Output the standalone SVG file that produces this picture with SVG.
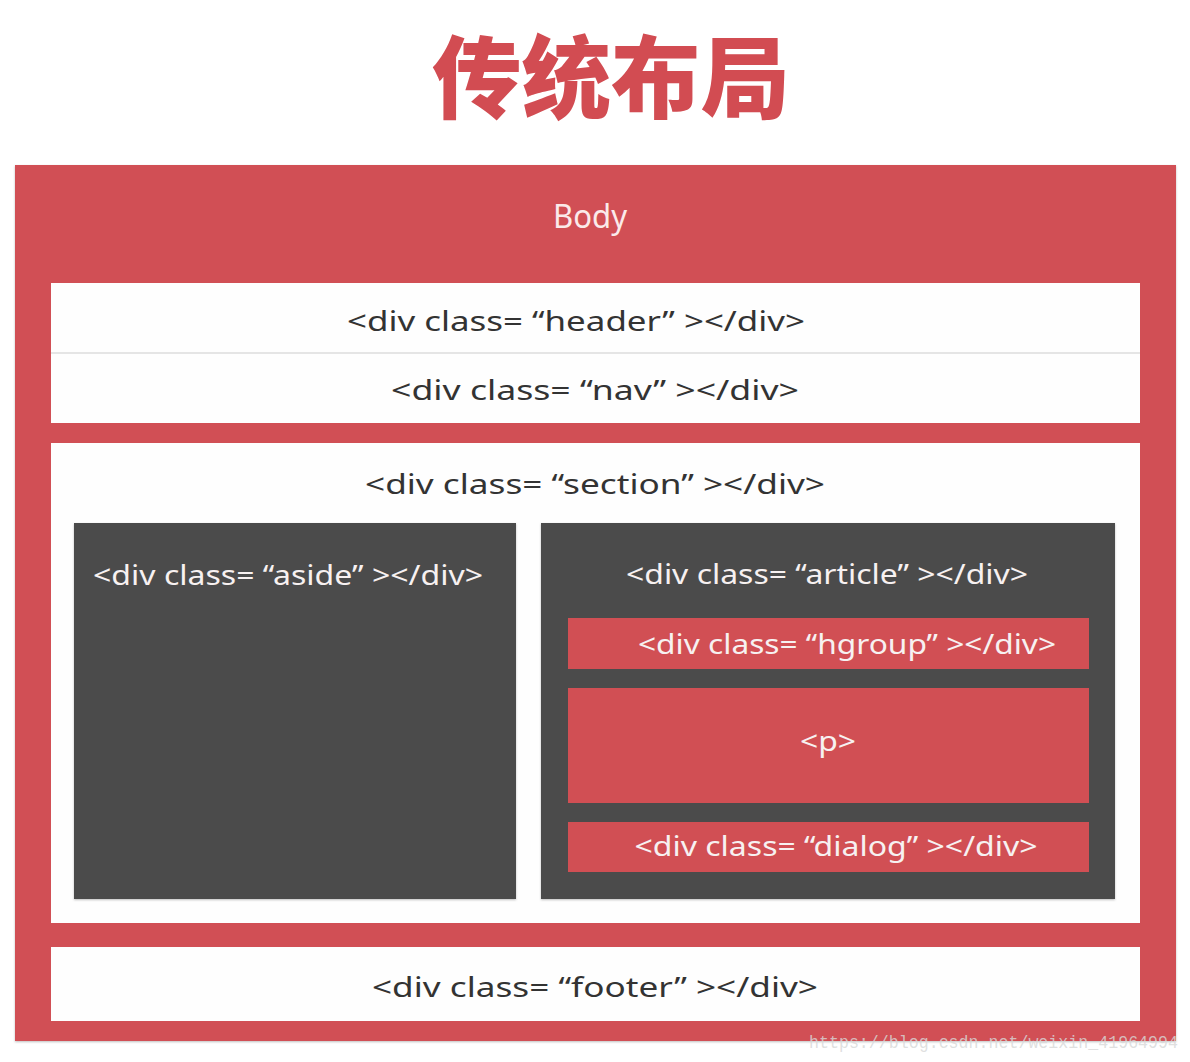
<svg xmlns="http://www.w3.org/2000/svg" width="1190" height="1062" viewBox="0 0 1190 1062">
  <style>
    .red { fill: #d14f54; }
    .white { fill: #fefefe; }
    .dark { fill: #4b4b4b; }
    .lbl { font-family: "Noto Sans", "Open Sans", "Noto Sans CJK SC", sans-serif; font-size: 28px; text-anchor: middle; }
    .onwhite { fill: #333333; }
    .onfill { fill: #f7f1f1; }
  </style>
  <defs>
    <filter id="sh" x="-5%" y="-5%" width="110%" height="115%">
      <feDropShadow dx="0" dy="1" stdDeviation="1" flood-color="#000" flood-opacity="0.25"/>
    </filter>
  </defs>
  <rect x="0" y="0" width="1190" height="1062" fill="#ffffff"/>

  <g id="title">
    <text x="611" y="111" font-family="Noto Sans CJK SC, sans-serif" font-weight="900" font-size="90" fill="#d24c52" text-anchor="middle" textLength="358" lengthAdjust="spacingAndGlyphs">传统布局</text>
  </g>

  <g id="body">
    <rect class="red" x="15" y="165" width="1161" height="876" filter="url(#sh)"/>
    <text x="590" y="228" font-family="Noto Sans, sans-serif" font-size="32" fill="#fbeaea" text-anchor="middle" textLength="74" lengthAdjust="spacingAndGlyphs">Body</text>
  </g>

  <g id="header">
    <rect class="white" x="51" y="283" width="1089" height="70"/>
    <text class="lbl onwhite" x="576" y="331" textLength="458" lengthAdjust="spacingAndGlyphs">&lt;div class= “header” &gt;&lt;/div&gt;</text>
  </g>

  <g id="nav">
    <rect class="white" x="51" y="353" width="1089" height="70"/>
    <line x1="51" y1="353" x2="1140" y2="353" stroke="#dcdcdc" stroke-width="1.5"/>
    <text class="lbl onwhite" x="595" y="400" textLength="408" lengthAdjust="spacingAndGlyphs">&lt;div class= “nav” &gt;&lt;/div&gt;</text>
  </g>

  <g id="section">
    <rect class="white" x="51" y="443" width="1089" height="480"/>
    <text class="lbl onwhite" x="595" y="494" textLength="460" lengthAdjust="spacingAndGlyphs">&lt;div class= “section” &gt;&lt;/div&gt;</text>
  </g>

  <g id="aside">
    <rect class="dark" x="74" y="523" width="442" height="376" filter="url(#sh)"/>
    <text class="lbl onfill" x="288" y="585" textLength="390" lengthAdjust="spacingAndGlyphs">&lt;div class= “aside” &gt;&lt;/div&gt;</text>
  </g>

  <g id="article">
    <rect class="dark" x="541" y="523" width="574" height="376" filter="url(#sh)"/>
    <text class="lbl onfill" x="827" y="584" textLength="402" lengthAdjust="spacingAndGlyphs">&lt;div class= “article” &gt;&lt;/div&gt;</text>
  </g>

  <g id="hgroup">
    <rect class="red" x="568" y="618" width="521" height="51"/>
    <text class="lbl onfill" x="847" y="654" textLength="418" lengthAdjust="spacingAndGlyphs">&lt;div class= “hgroup” &gt;&lt;/div&gt;</text>
  </g>

  <g id="p">
    <rect class="red" x="568" y="688" width="521" height="115"/>
    <text class="lbl onfill" x="828" y="751" textLength="56" lengthAdjust="spacingAndGlyphs">&lt;p&gt;</text>
  </g>

  <g id="dialog">
    <rect class="red" x="568" y="822" width="521" height="50"/>
    <text class="lbl onfill" x="836" y="856" textLength="403" lengthAdjust="spacingAndGlyphs">&lt;div class= “dialog” &gt;&lt;/div&gt;</text>
  </g>

  <g id="footer">
    <rect class="white" x="51" y="947" width="1089" height="74"/>
    <text class="lbl onwhite" x="595" y="997" textLength="446" lengthAdjust="spacingAndGlyphs">&lt;div class= “footer” &gt;&lt;/div&gt;</text>
  </g>

  <g id="connectors"></g>

  <g id="watermark">
    <text x="809" y="1048" font-family="Liberation Mono, monospace" font-size="18" fill="#d8d8d8" fill-opacity="0.8" textLength="369" lengthAdjust="spacingAndGlyphs">https://blog.csdn.net/weixin_41964994</text>
  </g>
</svg>
